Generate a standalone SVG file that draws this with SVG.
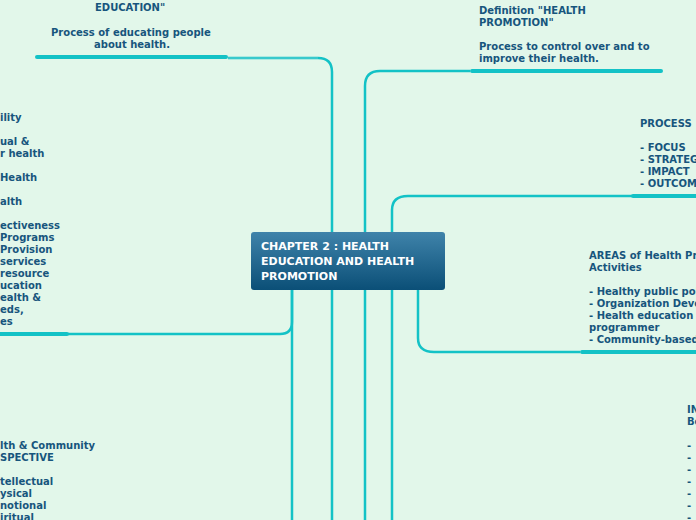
<svg xmlns="http://www.w3.org/2000/svg" width="696" height="520" viewBox="0 0 696 520">
<defs>
<linearGradient id="g" x1="0" y1="0" x2="0" y2="1"><stop offset="0" stop-color="#3f83aa"/><stop offset="1" stop-color="#0b4f77"/></linearGradient>
<style>
text{font-family:"DejaVu Sans",sans-serif;font-weight:bold;font-size:10px;fill:#17557d}
.c{fill:none;stroke:#13c2c6;stroke-width:2.5}
.t{fill:none;stroke:#5fd0d3;stroke-width:1}
.u{stroke:#13c2c6;stroke-width:4;stroke-linecap:round}
</style>
</defs>
<rect width="696" height="520" fill="#e2f7ea"/>
<g id="connectors">
<path class="c" d="M332 520 V72 Q332 58 318 58 H228"/>
<path class="c" d="M365 520 V86 Q365 71 380 71 H470"/>
<path class="c" d="M392 520 V210 Q392 196 408 196 H632"/>
<path class="c" d="M418 290 V338 Q418 352 434 352 H580"/>
<path class="c" d="M292 520 V290"/>
<path class="c" d="M292 290 V322 Q292 334 280 334 H68"/>
<path class="t" d="M228 58 H318"/>
</g>
<g id="center"><rect x="251" y="232" width="194" height="58" rx="3" fill="url(#g)"/>
<text x="261" y="250" style="fill:#fff;font-size:11px">CHAPTER 2 : HEALTH</text>
<text x="261" y="265" style="fill:#fff;font-size:11px">EDUCATION AND HEALTH</text>
<text x="261" y="280" style="fill:#fff;font-size:11px">PROMOTION</text></g>
<g id="n1"><text x="95" y="11">EDUCATION"</text>
<text x="51" y="36">Process of educating people</text><text x="94" y="48">about health.</text>
<line class="u" x1="37" y1="57" x2="226" y2="57"/></g>
<g id="n2"><text x="479" y="14">Definition "HEALTH</text><text x="479" y="26">PROMOTION"</text>
<text x="479" y="50">Process to control over and to</text><text x="479" y="62">improve their health.</text>
<line class="u" x1="472" y1="71" x2="661" y2="71"/></g>
<g id="n3"><text x="640" y="127">PROCESS</text><text x="640" y="151">- FOCUS</text><text x="640" y="163">- STRATEGY</text><text x="640" y="175">- IMPACT</text><text x="640" y="187">- OUTCOME</text>
<line class="u" x1="633" y1="196" x2="700" y2="196"/></g>
<g id="n4"><text x="589" y="259">AREAS of Health Promotion</text><text x="589" y="271">Activities</text>
<text x="589" y="295">- Healthy public policy</text><text x="589" y="307">- Organization Development</text><text x="589" y="319">- Health education</text><text x="589" y="331">programmer</text><text x="589" y="343">- Community-based</text>
<line class="u" x1="582" y1="352" x2="700" y2="352"/></g>
<g id="n5"><text x="687" y="413">IN</text><text x="687" y="425">Be</text>
<text x="687" y="449">- </text><text x="687" y="461">- </text><text x="687" y="473">- </text><text x="687" y="485">- </text><text x="687" y="497">- </text><text x="687" y="509">- </text><text x="687" y="521">- </text></g>
<g id="n6"><text x="0" y="121">ility</text><text x="0" y="145">ual &amp;</text><text x="0" y="157">r health</text><text x="0" y="181"> Health</text><text x="0" y="205">alth</text>
<text x="0" y="229">ectiveness</text><text x="0" y="241">Programs</text><text x="0" y="253">Provision</text><text x="0" y="265">services</text><text x="0" y="277">resource</text><text x="0" y="289">ucation</text><text x="0" y="301">ealth &amp;</text><text x="0" y="313">eds,</text><text x="0" y="325">es</text>
<line class="u" x1="-5" y1="334" x2="67" y2="334"/></g>
<g id="n7"><text x="0" y="449">lth &amp; Community</text><text x="0" y="461">SPECTIVE</text><text x="0" y="485">tellectual</text><text x="0" y="497">ysical</text><text x="0" y="509">notional</text><text x="0" y="521">iritual</text></g>
</svg>
